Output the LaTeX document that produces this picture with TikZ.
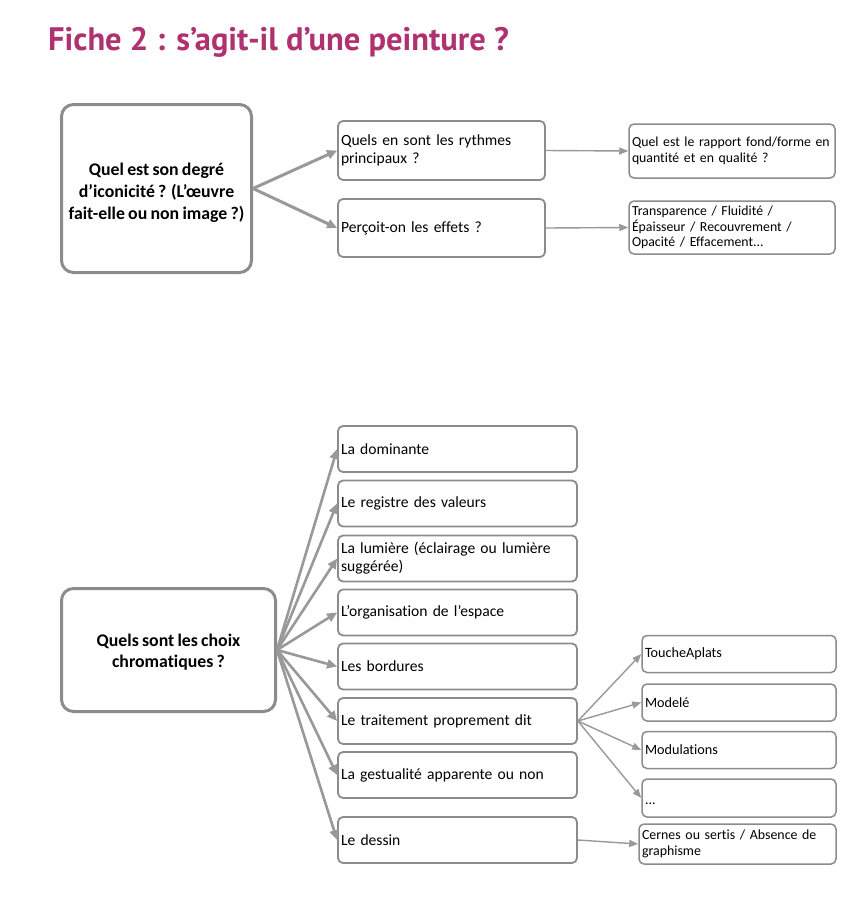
\documentclass[tikz,border=0pt]{standalone}
\usepackage{fontspec}
\setmainfont{Carlito}[RawFeature=-liga, WordSpace=0.8]
\newfontfamily\titlefont{PT Sans}
\usetikzlibrary{arrows.meta}
\definecolor{boxgray}{HTML}{8C8C8C}
\definecolor{arrgray}{HTML}{999999}
\definecolor{titlemag}{HTML}{B0316F}
\begin{document}
\begin{tikzpicture}[x=1pt,y=-1pt,
  mainbox/.style={draw=boxgray, line width=3pt, rounded corners=12pt, align=center,
    font=\fontsize{17.8}{22}\selectfont\bfseries, inner sep=0pt},
  midbox/.style={draw=boxgray, line width=1.8pt, rounded corners=5pt, align=left,
    inner xsep=3pt, inner ysep=0pt, font=\fontsize{15.6}{18}\selectfont},
  smallbox/.style={draw=boxgray, line width=1.5pt, rounded corners=5pt, align=left,
    inner xsep=3pt, inner ysep=0pt, font=\fontsize{13.8}{15.5}\selectfont},
  bigarrow/.style={draw=arrgray, line width=3pt, -{Triangle[length=10pt,width=9pt]}},
  thinarrow/.style={draw=arrgray, line width=1.4pt, -{Triangle[length=9pt,width=7pt]}},
]
\useasboundingbox (0,0) rectangle (862,906);
\fill[white] (0,0) rectangle (862,906);

\node[anchor=base west, text=titlemag, font=\titlefont\bfseries\fontsize{32.5}{32.5}\selectfont, inner sep=0pt] (title) at (48,50) {Fiche 2 : s’agit-il d’une peinture ?};

% top part
\node[mainbox, minimum width=190pt, minimum height=168pt] (A) at (156.5,188.5)
  {\raisebox{-4.5pt}[\height][\depth]{\begin{tabular}{@{}c@{}}Quel est son degré\\d’iconicité ? (L’œuvre\\fait-elle ou non image ?)\end{tabular}}};
\node[midbox, minimum width=207pt, minimum height=59pt, text width=201pt] (B1) at (441.5,150.5)
  {Quels en sont les rythmes\\principaux ?};
\node[midbox, minimum width=207pt, minimum height=58pt, text width=201pt] (B2) at (441.5,228)
  {Perçoit-on les effets ?};
\node[smallbox, minimum width=206pt, minimum height=54pt, text width=200pt] (C1) at (732,151)
  {Quel est le rapport fond/forme en\\quantité et en qualité ?};
\node[smallbox, minimum width=206pt, minimum height=53pt, text width=200pt] (C2) at (732,227.5)
  {Transparence / Fluidité /\\Épaisseur / Recouvrement /\\Opacité / Effacement...};

\draw[bigarrow] (A.east) -- (B1.west);
\draw[bigarrow] (A.east) -- (B2.west);
\draw[thinarrow] (B1.east) -- (C1.west);
\draw[thinarrow] (B2.east) -- (C2.west);

% bottom part
\node[mainbox, minimum width=214pt, minimum height=123pt, font=\fontsize{17.8}{21}\selectfont\bfseries] (D) at (168.5,650)
  {\raisebox{-3pt}[\height][\depth]{\begin{tabular}{@{}c@{}}Quels sont les choix\\chromatiques ?\end{tabular}}};

\tikzset{mbox/.style={midbox, minimum width=239pt, minimum height=46pt, text width=233pt}}
\node[mbox] (M1) at (457.5,449) {La dominante};
\node[mbox] (M2) at (457.5,503.5) {Le registre des valeurs};
\node[mbox] (M3) at (457.5,558.5) {La lumière (éclairage ou lumière\\suggérée)};
\node[mbox] (M4) at (457.5,612.5) {L’organisation de l’espace};
\node[mbox] (M5) at (457.5,666.5) {Les bordures};
\node[mbox] (M6) at (457.5,721) {Le traitement proprement dit};
\node[mbox] (M7) at (457.5,775) {La gestualité apparente ou non};
\node[mbox] (M8) at (457.5,840) {Le dessin};

\foreach \i in {1,...,8} {
  \draw[bigarrow, line width=2.6pt] (D.east) -- (M\i.west);
}

\tikzset{rbox/.style={midbox, line width=1.5pt, minimum width=194pt, minimum height=37pt, text width=188pt, font=\fontsize{14.2}{16}\selectfont}}
\node[rbox] (R1) at (739,654) {ToucheAplats};
\node[rbox] (R2) at (739,702.5) {Modelé};
\node[rbox] (R3) at (739,750) {Modulations};
\node[rbox, minimum height=38pt] (R4) at (739,798) {\raisebox{-6pt}[\height][\depth]{...}};
\node[rbox, minimum width=197pt, minimum height=40pt, text width=191pt, font=\fontsize{13.9}{16}\selectfont] (R5) at (737.5,844)
  {Cernes ou sertis / Absence de\\graphisme};

\foreach \i in {1,...,4} {
  \draw[thinarrow] (M6.east) -- (R\i.west);
}
\draw[thinarrow] (M8.east) -- (R5.west);
\end{tikzpicture}
\end{document}
